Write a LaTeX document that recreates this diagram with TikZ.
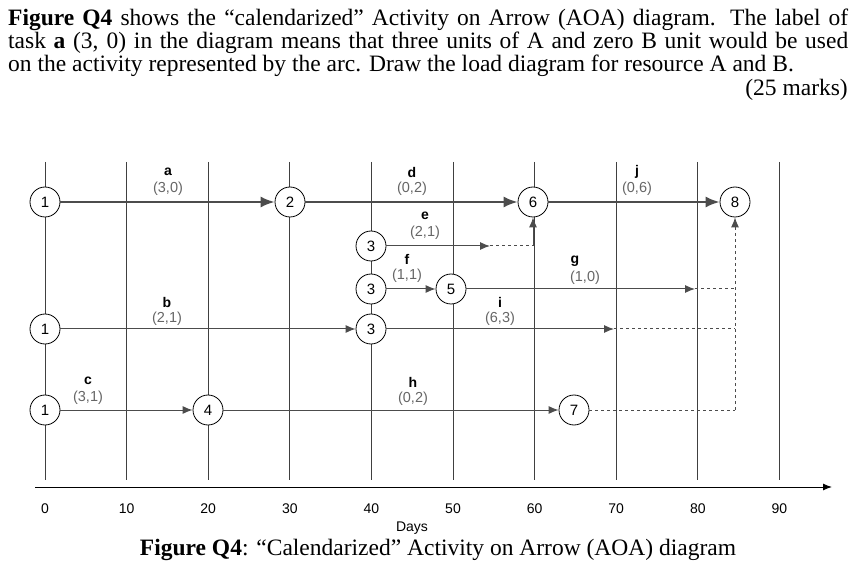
\documentclass[tikz,border=0pt]{standalone}
\usepackage{fontspec}
\setmainfont{Liberation Serif}
\newfontfamily\arial{Liberation Sans}
\usetikzlibrary{arrows.meta}
\begin{document}
\begin{tikzpicture}[x=1pt,y=-1pt,
  ev/.style={circle,draw,thick,minimum size=30pt,inner sep=0pt,font=\arial\fontsize{15}{15}\selectfont,fill=white},
  grid/.style={draw=black!75,line width=0.9pt},
  act/.style={draw=black!70,line width=1pt,-{Latex[length=10pt,width=8pt]}},
  crit/.style={draw=black!70,line width=2pt,-{Latex[length=14pt,width=11pt]}},
  dum/.style={draw=black!70,line width=1pt,dashed},
  lbl/.style={font=\arial\bfseries\fontsize{14}{14}\selectfont,inner sep=0pt},
  val/.style={font=\arial\fontsize{14.5}{14}\selectfont,text=black!60,inner sep=0pt},
  hd/.style={anchor=west,inner sep=0pt,font=\fontsize{23.5}{25}\selectfont}]
\useasboundingbox (0,0) rectangle (857,585);
% header
\node[hd] at (8,20) {\makebox[840pt][s]{\textbf{Figure Q4} shows the “calendarized” Activity on Arrow (AOA) diagram. The label of}};
\node[hd] at (8,43) {\makebox[840pt][s]{task \textbf{a} (3, 0) in the diagram means that three units of A and zero B unit would be used}};
\node[hd] at (8,66) {on the activity represented by the arc. Draw the load diagram for resource A and B.};
\node[hd,anchor=east] at (848,90) {(25 marks)};
% grid
\foreach \d in {0,10,...,90}{
  \pgfmathsetmacro\xx{45+8.16*\d}
  \draw[grid] (\xx,162) -- (\xx,480);
  \node[font=\arial\fontsize{14}{14}\selectfont] at (\xx,509) {\d};
}
\coordinate (ax0) at (35,487);
\coordinate (ax1) at (832,487);
\draw[line width=1pt,-{Latex[length=9pt,width=7pt]}] (ax0) -- (ax1);
\node[font=\arial\fontsize{14}{14}\selectfont] (days) at (412,528) {Days};
\node[font=\fontsize{23.5}{25}\selectfont] (cap) at (438,550) {\textbf{Figure Q4}: “Calendarized” Activity on Arrow (AOA) diagram};
% events
\node[ev] (n1a) at (45,202) {1};
\node[ev] (n2) at (290,202) {2};
\node[ev] (n6) at (533,202) {6};
\node[ev] (n8) at (735,202) {8};
\node[ev] (n3e) at (371,246) {3};
\node[ev] (n3f) at (371,289) {3};
\node[ev] (n5) at (451,289) {5};
\node[ev] (n1b) at (45,329) {1};
\node[ev] (n3b) at (371,329) {3};
\node[ev] (n1c) at (45,410) {1};
\node[ev] (n4) at (208,410) {4};
\node[ev] (n7) at (574,410) {7};
\coordinate (ee) at (490,246);
\coordinate (ge) at (695,289);
\coordinate (ie) at (614,329);
\coordinate (e6) at (533,246);
\coordinate (c8g) at (735,289);
\coordinate (c8i) at (735,329);
\coordinate (c8) at (735,410);
% activities
\draw[crit] (n1a) -- (n2);
\draw[crit] (n2) -- (n6);
\draw[crit] (n6) -- (n8);
\draw[act] (n3e) -- (ee);
\draw[dum] (ee) -- (e6);
\draw[act] (e6) -- (n6);
\draw[act] (n3f) -- (n5);
\draw[act] (n5) -- (ge);
\draw[dum] (ge) -- (c8g);
\draw[act] (n1b) -- (n3b);
\draw[act] (n3b) -- (ie);
\draw[dum] (ie) -- (c8i);
\draw[act] (n1c) -- (n4);
\draw[act] (n4) -- (n7);
\draw[dum] (n7) -- (c8);
\draw[dum,-{Latex[length=10pt,width=8pt]}] (c8) -- (n8);
% labels
\node[lbl] at (168,172) {a}; \node[val] at (168,189) {(3,0)};
\node[lbl] at (412,172) {d}; \node[val] at (412,189) {(0,2)};
\node[lbl] at (637,172) {j}; \node[val] at (637,189) {(0,6)};
\node[lbl] at (425,216) {e}; \node[val] at (425,233) {(2,1)};
\node[lbl] at (407,259) {f}; \node[val] at (407,276) {(1,1)};
\node[lbl] at (575,261) {g}; \node[val] at (585,278) {(1,0)};
\node[lbl] at (500,302) {i}; \node[val] at (500,319) {(6,3)};
\node[lbl] at (167,302) {b}; \node[val] at (167,319) {(2,1)};
\node[lbl] at (88,381) {c}; \node[val] at (88,398) {(3,1)};
\node[lbl] at (413,382) {h}; \node[val] at (413,399) {(0,2)};
\end{tikzpicture}
\end{document}
